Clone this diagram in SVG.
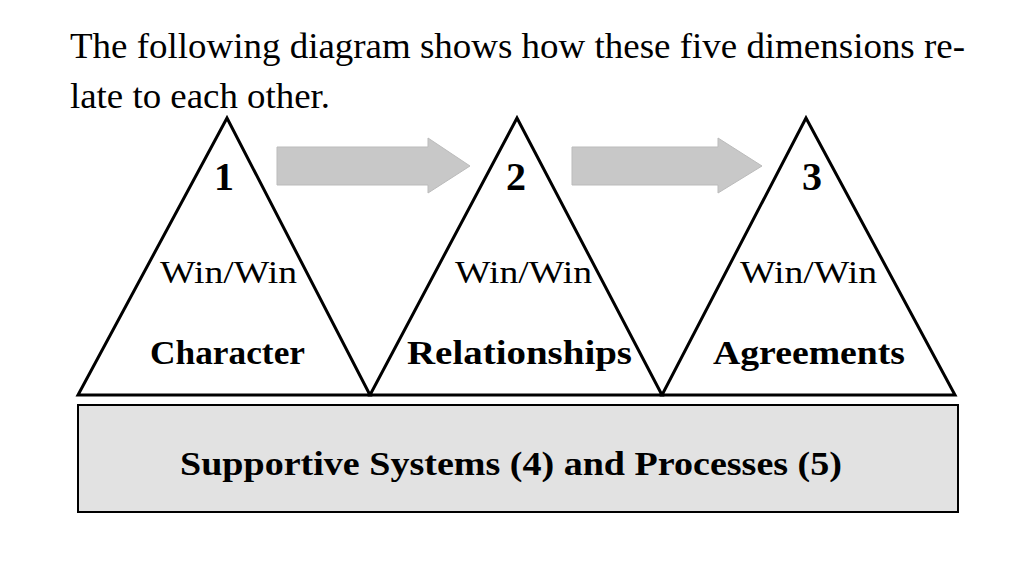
<svg xmlns="http://www.w3.org/2000/svg" width="1024" height="568" viewBox="0 0 1024 568">
<style>
.t{font-family:"Liberation Serif",serif;fill:#000}
.tri{fill:#fff;stroke:#000;stroke-width:3;stroke-linejoin:miter}
.arr{fill:#c8c8c8;stroke:#bbb;stroke-width:1}
</style>
<rect width="1024" height="568" fill="#fff"/>
<text class="t" x="70" y="58" font-size="35" textLength="895" lengthAdjust="spacingAndGlyphs">The following diagram shows how these five dimensions re-</text>
<text class="t" x="70" y="108" font-size="35" textLength="260" lengthAdjust="spacingAndGlyphs">late to each other.</text>
<g id="connectors">
<polygon class="arr" points="277,147 428,147 428,138 470,166 428,193 428,185 277,185"/>
<polygon class="arr" points="572,147 718,147 718,138 762,166 718,193 718,185 572,185"/>
</g>
<g id="node1">
<polygon class="tri" points="227,118 78,395 370,395"/>
<text class="t" x="224" y="190" font-size="40" font-weight="bold" text-anchor="middle">1</text>
<text class="t" x="160" y="283" font-size="32" textLength="137" lengthAdjust="spacingAndGlyphs">Win/Win</text>
<text class="t" x="150" y="364" font-size="33" font-weight="bold" textLength="155" lengthAdjust="spacingAndGlyphs">Character</text>
</g>
<g id="node2">
<polygon class="tri" points="517,118 370,395 662,395"/>
<text class="t" x="516" y="190" font-size="40" font-weight="bold" text-anchor="middle">2</text>
<text class="t" x="455" y="283" font-size="32" textLength="137" lengthAdjust="spacingAndGlyphs">Win/Win</text>
<text class="t" x="407" y="364" font-size="33" font-weight="bold" textLength="225" lengthAdjust="spacingAndGlyphs">Relationships</text>
</g>
<g id="node3">
<polygon class="tri" points="806,118 662,395 955,395"/>
<text class="t" x="812" y="190" font-size="40" font-weight="bold" text-anchor="middle">3</text>
<text class="t" x="740" y="283" font-size="32" textLength="137" lengthAdjust="spacingAndGlyphs">Win/Win</text>
<text class="t" x="713" y="364" font-size="33" font-weight="bold" textLength="192" lengthAdjust="spacingAndGlyphs">Agreements</text>
</g>
<g id="base">
<rect x="78" y="405" width="880" height="107" fill="#e2e2e2" stroke="#000" stroke-width="2"/>
<text class="t" x="180" y="475" font-size="33" font-weight="bold" textLength="662" lengthAdjust="spacingAndGlyphs">Supportive Systems (4) and Processes (5)</text>
</g>
</svg>
